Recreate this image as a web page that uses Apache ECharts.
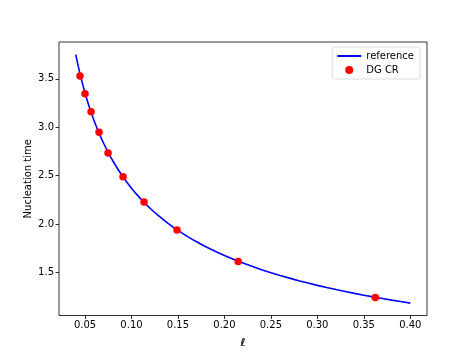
<!DOCTYPE html>
<html><head><meta charset="utf-8">
<script src="https://cdn.jsdelivr.net/npm/echarts@6/dist/echarts.min.js"></script>
<style>html,body{margin:0;padding:0;background:#fff}#c{width:474px;height:355px}</style>
</head><body><div id="c"></div>
<script>
// reference curve
const refL = [0.04, 0.045, 0.05, 0.055, 0.06, 0.065, 0.07, 0.075, 0.08, 0.09, 0.10, 0.11, 0.12, 0.13, 0.14, 0.15, 0.16, 0.17, 0.18, 0.19, 0.20, 0.22, 0.24, 0.26, 0.28, 0.30, 0.32, 0.34, 0.36, 0.38, 0.40];
const refT = [3.75, 3.535, 3.354, 3.198, 3.062, 2.942, 2.835, 2.739, 2.652, 2.500, 2.372, 2.261, 2.165, 2.080, 2.004, 1.936, 1.875, 1.819, 1.768, 1.721, 1.677, 1.599, 1.531, 1.471, 1.417, 1.369, 1.326, 1.286, 1.250, 1.217, 1.186];
// DG CR points
const dgL = [0.0446, 0.05, 0.0565, 0.0651, 0.0748, 0.0909, 0.1135, 0.149, 0.2148, 0.3623];
const dgT = [3.53, 3.345, 3.16, 2.95, 2.735, 2.49, 2.23, 1.94, 1.615, 1.245];
const xTicks = [0.05, 0.10, 0.15, 0.20, 0.25, 0.30, 0.35, 0.40];
const yTicks = [1.5, 2.0, 2.5, 3.0, 3.5];

const font = 'DejaVu Sans';
const chart = echarts.init(document.getElementById('c'), null, {renderer: 'canvas'});
chart.setOption({
  animation: false,
  textStyle: {fontFamily: font},
  grid: {left: 59, right: 47, top: 42, bottom: 39.5, show: true, borderColor: '#000', borderWidth: 0.8, backgroundColor: 'transparent'},
  legend: {
    right: 54, top: 47, orient: 'vertical', itemGap: 4, itemWidth: 24, itemHeight: 8,
    backgroundColor: 'rgba(255,255,255,0.8)', borderColor: '#d0d0d0', borderWidth: 0.8, borderRadius: 3,
    padding: [4, 6, 4, 4],
    textStyle: {fontFamily: font, fontSize: 10, color: '#000'},
    data: [{name: 'reference', itemStyle: {opacity: 0}}, {name: 'DG CR', icon: 'circle'}]
  },
  xAxis: {
    type: 'value', min: 0.022, max: 0.418,
    name: 'ℓ', nameLocation: 'middle', nameGap: 22, nameMoveOverlap: false,
    nameTextStyle: {fontFamily: font, fontSize: 11, fontStyle: 'italic', fontWeight: 'bold', color: '#000'},
    axisLine: {show: false},
    splitLine: {show: false},
    axisTick: {show: true, length: 3.5, inside: false, customValues: xTicks, lineStyle: {color: '#000', width: 0.8}},
    axisLabel: {customValues: xTicks, fontFamily: font, fontSize: 10, color: '#000', margin: 5, formatter: v => v.toFixed(2)}
  },
  yAxis: {
    type: 'value', min: 1.058, max: 3.88,
    name: 'Nucleation time', nameLocation: 'middle', nameGap: 26, nameRotate: 90, nameMoveOverlap: false,
    nameTextStyle: {fontFamily: font, fontSize: 10, color: '#000'},
    axisLine: {show: false},
    splitLine: {show: false},
    axisTick: {show: true, length: 3.5, customValues: yTicks, lineStyle: {color: '#000', width: 0.8}},
    axisLabel: {customValues: yTicks, fontFamily: font, fontSize: 10, color: '#000', margin: 5, formatter: v => v.toFixed(1)}
  },
  series: [
    {name: 'reference', type: 'line', smooth: 0.2, symbol: 'none', z: 2,
     lineStyle: {color: '#0000ff', width: 1.6}, itemStyle: {color: '#0000ff'},
     data: refL.map((x, i) => [x, refT[i]])},
    {name: 'DG CR', type: 'scatter', symbol: 'circle', symbolSize: 7.5, z: 3,
     itemStyle: {color: '#ff0000', opacity: 1},
     data: dgL.map((x, i) => [x, dgT[i]])}
  ]
});
</script></body></html>
